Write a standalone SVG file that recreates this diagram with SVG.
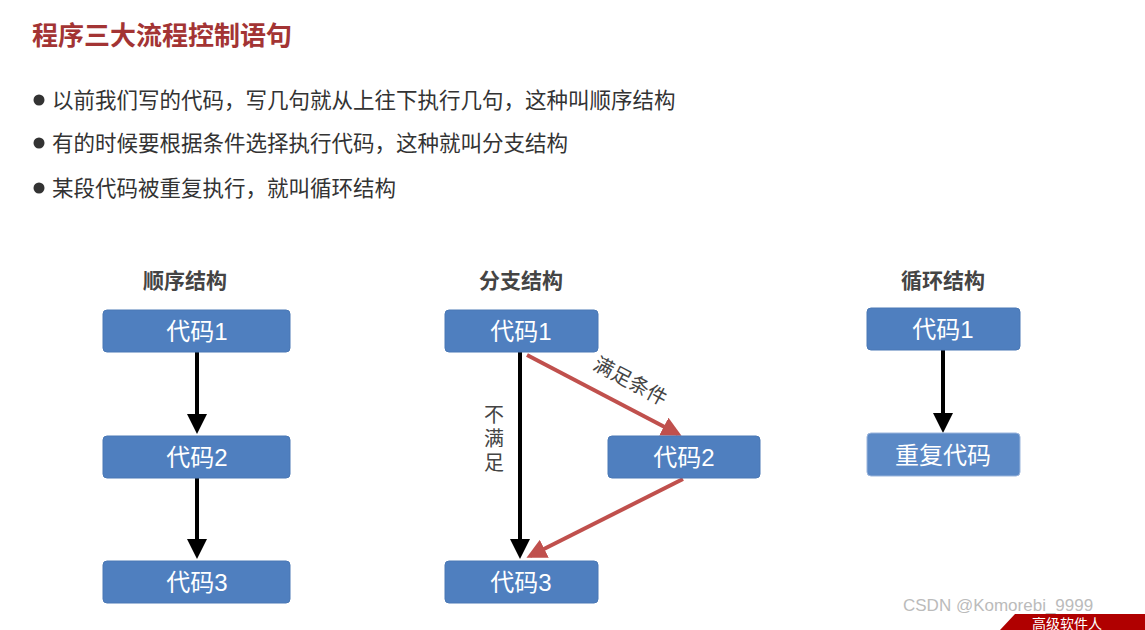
<svg xmlns="http://www.w3.org/2000/svg" width="1145" height="630" viewBox="0 0 1145 630">
<style>
text{font-family:"Liberation Sans","Noto Sans CJK SC",sans-serif}
.t{fill:#333;font-size:21.5px}
.h{fill:#444;font-size:21px;font-weight:bold}
.n rect{fill:#4f7fbf;stroke:#4a78b5;stroke-width:1}
.n text{fill:#fff;font-size:24px;text-anchor:middle}
.k{stroke:#000;stroke-width:4;fill:none}
.r{stroke:#c0504d;stroke-width:4;fill:none}
</style>
<defs>
<marker id="ak" markerWidth="5" markerHeight="5" refX="4" refY="2.5" orient="auto"><path d="M0,0L5,2.5L0,5z" fill="#000"/></marker>
<marker id="ar" markerWidth="5" markerHeight="5" refX="4" refY="2.5" orient="auto"><path d="M0,0L5,2.5L0,5z" fill="#c0504d"/></marker>
</defs>
<rect width="1145" height="630" fill="#fff"/>
<text x="32" y="45" fill="#a33434" font-size="26" font-weight="bold">程序三大流程控制语句</text>
<circle cx="39" cy="100" r="5.5" fill="#333"/><text class="t" x="52" y="108">以前我们写的代码，写几句就从上往下执行几句，这种叫顺序结构</text>
<circle cx="39" cy="143" r="5.5" fill="#333"/><text class="t" x="52" y="151">有的时候要根据条件选择执行代码，这种就叫分支结构</text>
<circle cx="39" cy="188" r="5.5" fill="#333"/><text class="t" x="52" y="196">某段代码被重复执行，就叫循环结构</text>
<text class="h" x="185" y="288" text-anchor="middle">顺序结构</text>
<text class="h" x="521" y="288" text-anchor="middle">分支结构</text>
<text class="h" x="943" y="288" text-anchor="middle">循环结构</text>
<g id="connectors">
<line class="k" x1="197" y1="352" x2="197" y2="430" marker-end="url(#ak)"/>
<line class="k" x1="197" y1="478" x2="197" y2="555" marker-end="url(#ak)"/>
<line class="k" x1="520" y1="352" x2="520" y2="555" marker-end="url(#ak)"/>
<line class="r" x1="527" y1="355" x2="678" y2="434" marker-end="url(#ar)"/>
<line class="r" x1="683" y1="479" x2="530" y2="556" marker-end="url(#ar)"/>
<line class="k" x1="943" y1="350" x2="943" y2="429" marker-end="url(#ak)"/>
<text x="630" y="388" fill="#444" font-size="20" text-anchor="middle" transform="rotate(28 630 382)">满足条件</text>
<text fill="#444" font-size="20" text-anchor="middle"><tspan x="494" y="422">不</tspan><tspan x="494" y="446">满</tspan><tspan x="494" y="470">足</tspan></text>
</g>
<g id="s1" class="n"><rect x="103" y="310" width="187" height="42" rx="4"/><text x="197" y="340">代码1</text></g>
<g id="s2" class="n"><rect x="103" y="436" width="187" height="42" rx="4"/><text x="197" y="466">代码2</text></g>
<g id="s3" class="n"><rect x="103" y="561" width="187" height="42" rx="4"/><text x="197" y="591">代码3</text></g>
<g id="b1" class="n"><rect x="445" y="310" width="153" height="42" rx="4"/><text x="521" y="340">代码1</text></g>
<g id="b2" class="n"><rect x="608" y="436" width="152" height="42" rx="4"/><text x="684" y="466">代码2</text></g>
<g id="b3" class="n"><rect x="445" y="561" width="153" height="42" rx="4"/><text x="521" y="591">代码3</text></g>
<g id="l1" class="n"><rect x="867" y="308" width="153" height="42" rx="4"/><text x="943" y="338">代码1</text></g>
<g id="l2" class="n"><rect x="867" y="433" width="153" height="43" rx="4" style="fill:#5b89c6;stroke:#9bb5dc"/><text x="943" y="464">重复代码</text></g>
<text x="903" y="611" fill="#bbb" font-size="17">CSDN @Komorebi_9999</text>
<path d="M1000,630L1015,614L1145,614L1145,630z" fill="#b00000"/>
<text x="1032" y="629" fill="#fff" font-size="14">高级软件人</text>
</svg>
